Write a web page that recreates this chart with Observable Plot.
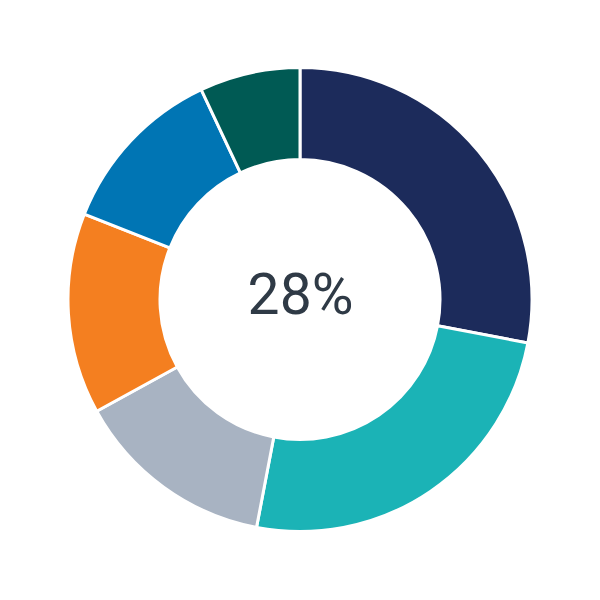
<!DOCTYPE html>
<html>
<head>
<meta charset="utf-8">
<script src="https://cdn.jsdelivr.net/npm/d3@7"></script>
<script src="https://cdn.jsdelivr.net/npm/@observablehq/plot@0.6"></script>
<style>
  html, body { margin: 0; padding: 0; background: #fff; }
</style>
</head>
<body>
<div id="chart"></div>
<script>
const categories = ["A", "B", "C", "D", "E", "F"];
const values = [28, 25, 14, 14, 12, 7];
const colors = ["#1c2b5b", "#1bb3b6", "#a8b3c2", "#f47f20", "#0075b4", "#005a54"];
const centerLabel = ["28%"];

const data = categories.map((c, i) => ({category: c, value: values[i]}));
const colorScale = Plot.scale({color: {type: "ordinal", domain: categories, range: colors}});
const outerR = 232, innerR = 140;

function donut(index, scales) {
  const x = scales.x, y = scales.y;
  const cx = x(0), cy = y(0);
  const k = Math.abs(x(1) - x(0));
  const arcs = d3.pie().sort(null).value(d => d.value)(data);
  const arc = d3.arc().innerRadius(innerR * k).outerRadius(outerR * k);
  const g = d3.create("svg:g").attr("transform", `translate(${cx},${cy})`);
  g.selectAll("path").data(arcs).join("path")
    .attr("d", arc)
    .attr("fill", d => colorScale.apply(d.data.category))
    .attr("stroke", "#fff")
    .attr("stroke-width", 3)
    .attr("stroke-linejoin", "round");
  return g.node();
}

const chart = Plot.plot({
  width: 600,
  height: 600,
  margin: 0,
  x: {domain: [-300, 300], axis: null},
  y: {domain: [-300.5, 299.5], axis: null},
  marks: [
    donut,
    Plot.text(centerLabel, {
      x: () => 0, y: () => 0, text: d => d, dy: -4,
      fontSize: 57, fill: "#2f3a46", fontFamily: "Roboto", fontWeight: 400,
      textAnchor: "middle", lineAnchor: "middle"
    })
  ]
});
document.getElementById("chart").appendChild(chart);
</script>
</body>
</html>
